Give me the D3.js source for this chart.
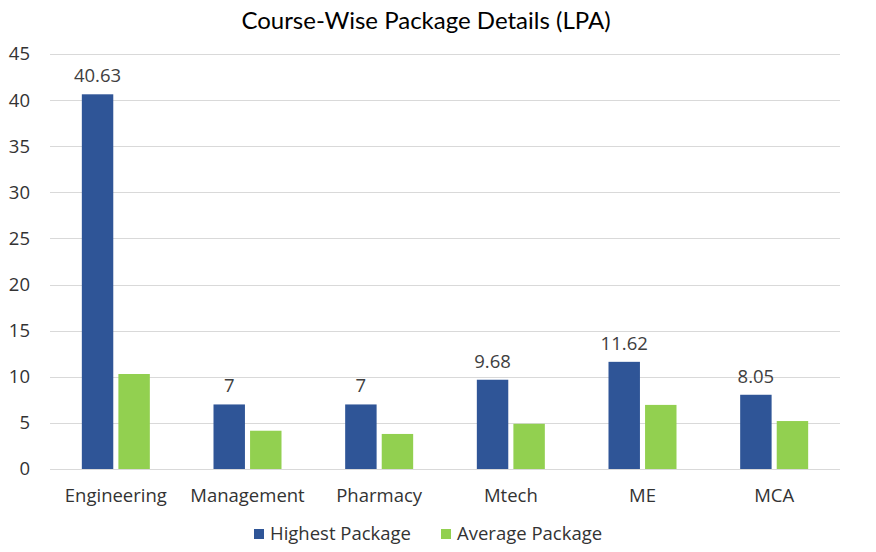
<!DOCTYPE html>
<html>
<head>
<meta charset="utf-8">
<script src="https://cdn.jsdelivr.net/npm/d3@7"></script>
<style>
  body { margin: 0; background: #fff; }
  svg text { font-family: "Open Sans", sans-serif; }
</style>
</head>
<body>
<svg id="chart"></svg>
<script>
// Chart data
const courses = ["Engineering", "Management", "Pharmacy", "Mtech", "ME", "MCA"];
const highestPackage = [40.63, 7, 7, 9.68, 11.62, 8.05];
const averagePackage = [10.3, 4.15, 3.8, 4.9, 6.95, 5.2];
const seriesNames = ["Highest Package", "Average Package"];
const yTicks = [0, 5, 10, 15, 20, 25, 30, 35, 40, 45];

const W = 876, H = 552;
const margin = { top: 54, right: 36, bottom: 83, left: 50 };
const width = W - margin.left - margin.right;
const height = H - margin.top - margin.bottom;
const colors = ["#2F5597", "#92D050"];
const textColor = "#333333";
const labelColor = "#404040";
const fontSize = "18.5px";

const svg = d3.select("#chart").attr("width", W).attr("height", H);

// Title
svg.append("text")
    .attr("x", 426)
    .attr("y", 29)
    .attr("text-anchor", "middle")
    .style("font-family", "Lato, sans-serif")
    .style("font-size", "24px")
    .attr("fill", "#000")
    .text("Course-Wise Package Details (LPA)");

const g = svg.append("g")
    .attr("transform", "translate(" + margin.left + "," + margin.top + ")");

const x = d3.scaleBand().domain(courses).range([0, width]);
const xSeries = d3.scaleBand().domain(seriesNames)
    .range([x.bandwidth() / 2 - 34, x.bandwidth() / 2 + 34]).paddingInner(0.14);
const y = d3.scaleLinear().domain([0, 45]).range([height, 0]);

// Gridlines
g.append("g")
    .selectAll("line")
    .data(yTicks)
    .enter()
    .append("line")
    .attr("x1", 0)
    .attr("x2", width)
    .attr("y1", d => Math.round(y(d)) + 0.5)
    .attr("y2", d => Math.round(y(d)) + 0.5)
    .attr("stroke", "#d9d9d9")
    .attr("stroke-width", 1);

// Y axis labels
const yAxis = g.append("g")
    .call(d3.axisLeft(y).tickValues(yTicks).tickSize(0).tickPadding(20));
yAxis.select(".domain").remove();
yAxis.selectAll("text")
    .style("font-size", fontSize)
    .attr("fill", textColor);

// X axis labels
const xAxis = g.append("g")
    .attr("transform", "translate(0," + height + ")")
    .call(d3.axisBottom(x).tickSize(0).tickPadding(20));
xAxis.select(".domain").remove();
xAxis.selectAll("text")
    .style("font-size", fontSize)
    .attr("fill", textColor);

// Bars
const rows = courses.map((c, i) => ({ course: c, values: [highestPackage[i], averagePackage[i]] }));

const groups = g.selectAll(".group")
    .data(rows)
    .enter()
    .append("g")
    .attr("transform", d => "translate(" + x(d.course) + ",0)");

groups.selectAll("rect")
    .data(d => d.values.map((v, k) => ({ key: seriesNames[k], value: v, k: k })))
    .enter()
    .append("rect")
    .attr("x", d => xSeries(d.key))
    .attr("y", d => y(d.value))
    .attr("width", xSeries.bandwidth())
    .attr("height", d => height - y(d.value))
    .attr("fill", d => colors[d.k]);

// Data labels for highest package
groups.append("text")
    .attr("x", xSeries(seriesNames[0]) + xSeries.bandwidth() / 2)
    .attr("y", d => y(d.values[0]) - 12)
    .attr("text-anchor", "middle")
    .style("font-size", fontSize)
    .attr("fill", labelColor)
    .text(d => d.values[0]);

// Legend
const legend = svg.append("g").attr("transform", "translate(254,534)");
const legendX = [0, 187];
seriesNames.forEach((name, i) => {
    legend.append("rect")
        .attr("x", legendX[i])
        .attr("y", -5)
        .attr("width", 10)
        .attr("height", 10)
        .attr("fill", colors[i]);
    legend.append("text")
        .attr("x", legendX[i] + 16)
        .attr("y", 0)
        .attr("dy", "0.35em")
        .style("font-size", fontSize)
        .attr("fill", textColor)
        .text(name);
});
</script>
</body>
</html>
